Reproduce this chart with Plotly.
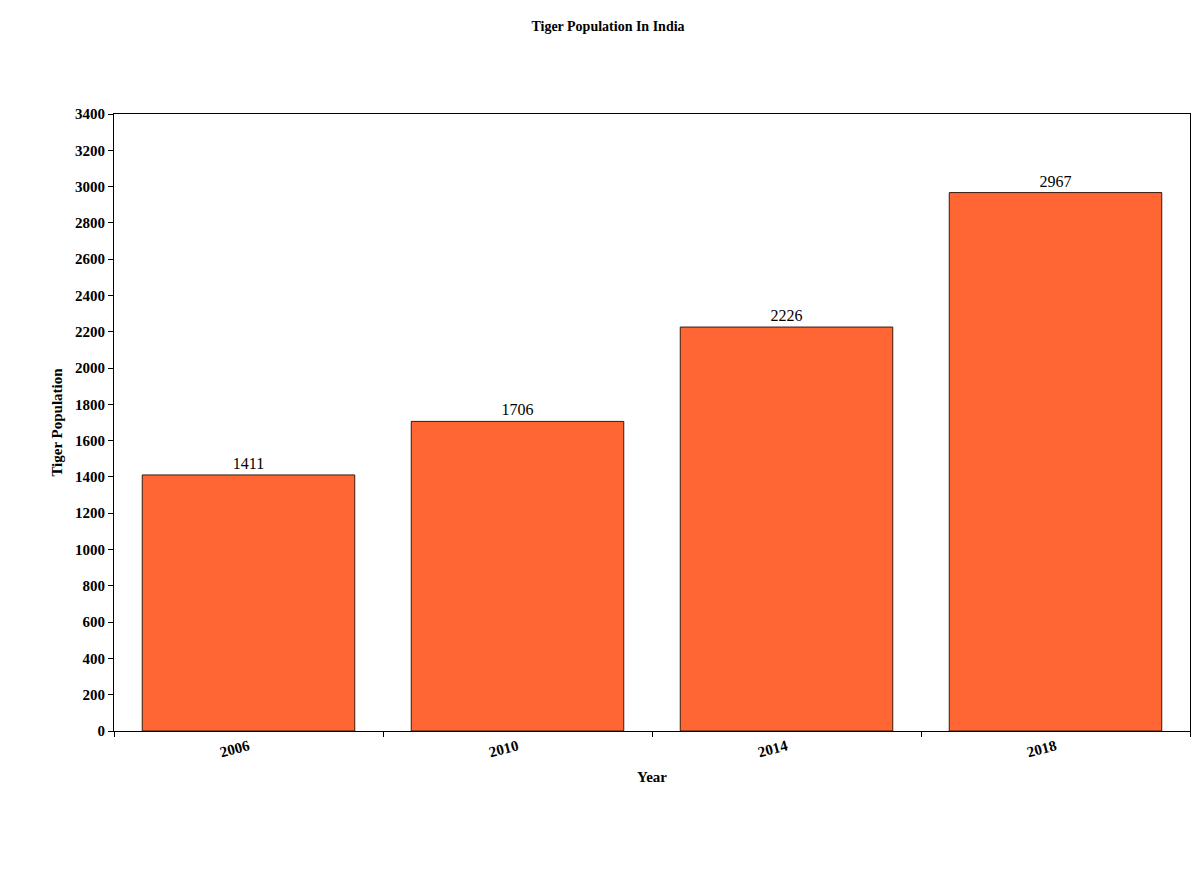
import plotly.graph_objects as go

years = ["2006", "2010", "2014", "2018"]
population = [1411, 1706, 2226, 2967]

xpos = list(range(len(years)))
fig = go.Figure(go.Bar(
    x=xpos, y=population, width=0.79,
    marker=dict(color="#FF6633", line=dict(color="#3a1a0a", width=1)),
    text=[str(v) for v in population], textposition="outside",
    textfont=dict(family="Liberation Serif", size=16, color="black"),
    cliponaxis=False,
))
font = dict(family="Liberation Serif", size=15, color="black")
fig.update_layout(
    width=1200, height=882, plot_bgcolor="white", paper_bgcolor="white",
    margin=dict(l=106, r=18, t=106, b=159),
    title=dict(text="<b>Tiger Population In India</b>", x=0.5, xanchor="center",
               y=0.985, yanchor="top", font=dict(family="Liberation Serif", size=14, color="black")),
    showlegend=False, bargap=0.21,
)
fig.update_xaxes(
    range=[-0.5, 3.5], tickvals=xpos, ticktext=["<b>%s</b>" % y for y in years],
    tickangle=-15, ticks="", tickfont=font,
    showline=True, linecolor="black", mirror=True, showgrid=False, zeroline=False,
    minor=dict(tickvals=[-0.5, 0.5, 1.5, 2.5, 3.5], ticks="outside", ticklen=5, tickcolor="black"),
    title=dict(text="<b>Year</b>", font=font, standoff=12),
)
fig.update_yaxes(
    range=[0, 3400], dtick=200, ticks="outside", ticklen=5, tickcolor="black",
    tickfont=font, tickprefix="<b>", ticksuffix="</b>",
    showline=True, linecolor="black", mirror=True, showgrid=False, zeroline=False,
    title=dict(text="<b>Tiger Population</b>", font=font, standoff=8),
)
fig.write_html("out.html")
